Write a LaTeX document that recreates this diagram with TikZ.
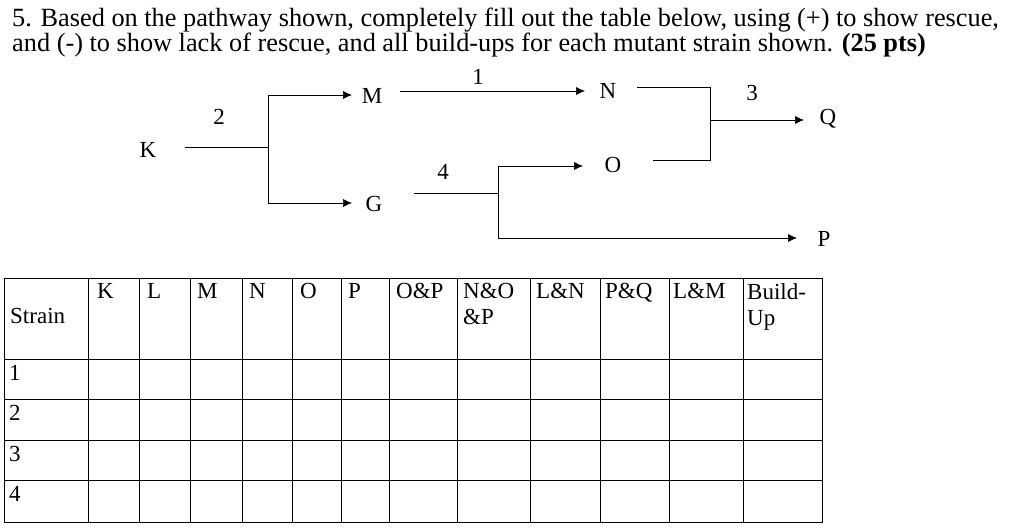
\documentclass[tikz,border=0pt]{standalone}
\usepackage{fontspec}
\setmainfont{Liberation Serif}
\usetikzlibrary{arrows.meta}
\begin{document}
\begin{tikzpicture}[x=1pt,y=-1pt,
  lab/.style={inner sep=0pt,font=\fontsize{23}{23}\selectfont},
  tx/.style={inner sep=0pt,anchor=north west,align=left,font=\fontsize{23}{26}\selectfont},
  arr/.style={-{Latex[length=9pt,width=8pt]},line width=0.7pt},
  ln/.style={line width=0.7pt}]
\useasboundingbox (0,0) rectangle (1024,532);
\node[anchor=base west,inner sep=0pt,font=\fontsize{26.3}{27}\selectfont] (t1) at (12,27) {5. Based on the pathway shown, completely fill out the table below, using (+) to show rescue,};
\node[anchor=base west,inner sep=0pt,font=\fontsize{26.3}{27}\selectfont] (t2) at (12,52) {and (-) to show lack of rescue, and all build-ups for each mutant strain shown. \textbf{(25 pts)}};
% diagram
\node[lab] (K) at (148,150) {K};
\node[lab] (M) at (372,96) {M};
\node[lab] (G) at (374,204) {G};
\node[lab] (N) at (608,91) {N};
\node[lab] (O) at (613,165) {O};
\node[lab] (Q) at (828,119) {Q};
\node[lab] (P) at (824,239) {P};
\node[lab] (l1) at (478,77) {1};
\node[lab] (l2) at (219,117) {2};
\node[lab] (l3) at (752,93) {3};
\node[lab] (l4) at (443,172) {4};
\coordinate (j1t) at (268,95); \coordinate (j1b) at (268,203); \coordinate (j1m) at (268,147);
\coordinate (j2t) at (498,166); \coordinate (j2b) at (498,238); \coordinate (j2m) at (498,193);
\coordinate (j3t) at (710,87); \coordinate (j3b) at (710,160); \coordinate (j3m) at (710,120);
\coordinate (aM) at (352,95); \coordinate (aG) at (352,203); \coordinate (aN) at (585,91);
\coordinate (aO) at (583,166); \coordinate (aP) at (797,238); \coordinate (aQ) at (804,120);
\draw[ln] (185,147) -- (j1m);
\draw[ln] (j1t) -- (j1b);
\draw[arr] (j1t) -- (aM);
\draw[arr] (j1b) -- (aG);
\draw[arr] (400,91) -- (aN);
\draw[ln] (414,193) -- (j2m);
\draw[ln] (j2t) -- (j2b);
\draw[arr] (j2t) -- (aO);
\draw[arr] (j2b) -- (aP);
\draw[ln] (637,87) -- (j3t) -- (j3b) -- (653,160);
\draw[arr] (j3m) -- (aQ);
% table
\draw[line width=0.7pt] (4,278) rectangle (822,522);
\foreach \x in {88,139,190,242,292,341,389,457,530,600,669,743}
  \draw[line width=0.7pt] (\x,278) -- (\x,522);
\foreach \y in {359,399,440,480}
  \draw[line width=0.7pt] (4,\y) -- (822,\y);
\node[tx] (hs) at (10,308) {Strain};
\foreach \x/\t in {97/K,147/L,197/M,249/N,300/O,348/P,396/O\&P,536/L\&N,605/P\&Q,673/L\&M}
  \node[tx] at (\x,283) {\t};
\node[tx] (hnop) at (463,283) {N\&O\\\&P};
\node[tx] (hbu) at (747,283) {Build-\\Up};
\foreach \y/\t in {365/1,405/2,446/3,486/4}
  \node[tx] at (9,\y) {\t};
\end{tikzpicture}
\end{document}
